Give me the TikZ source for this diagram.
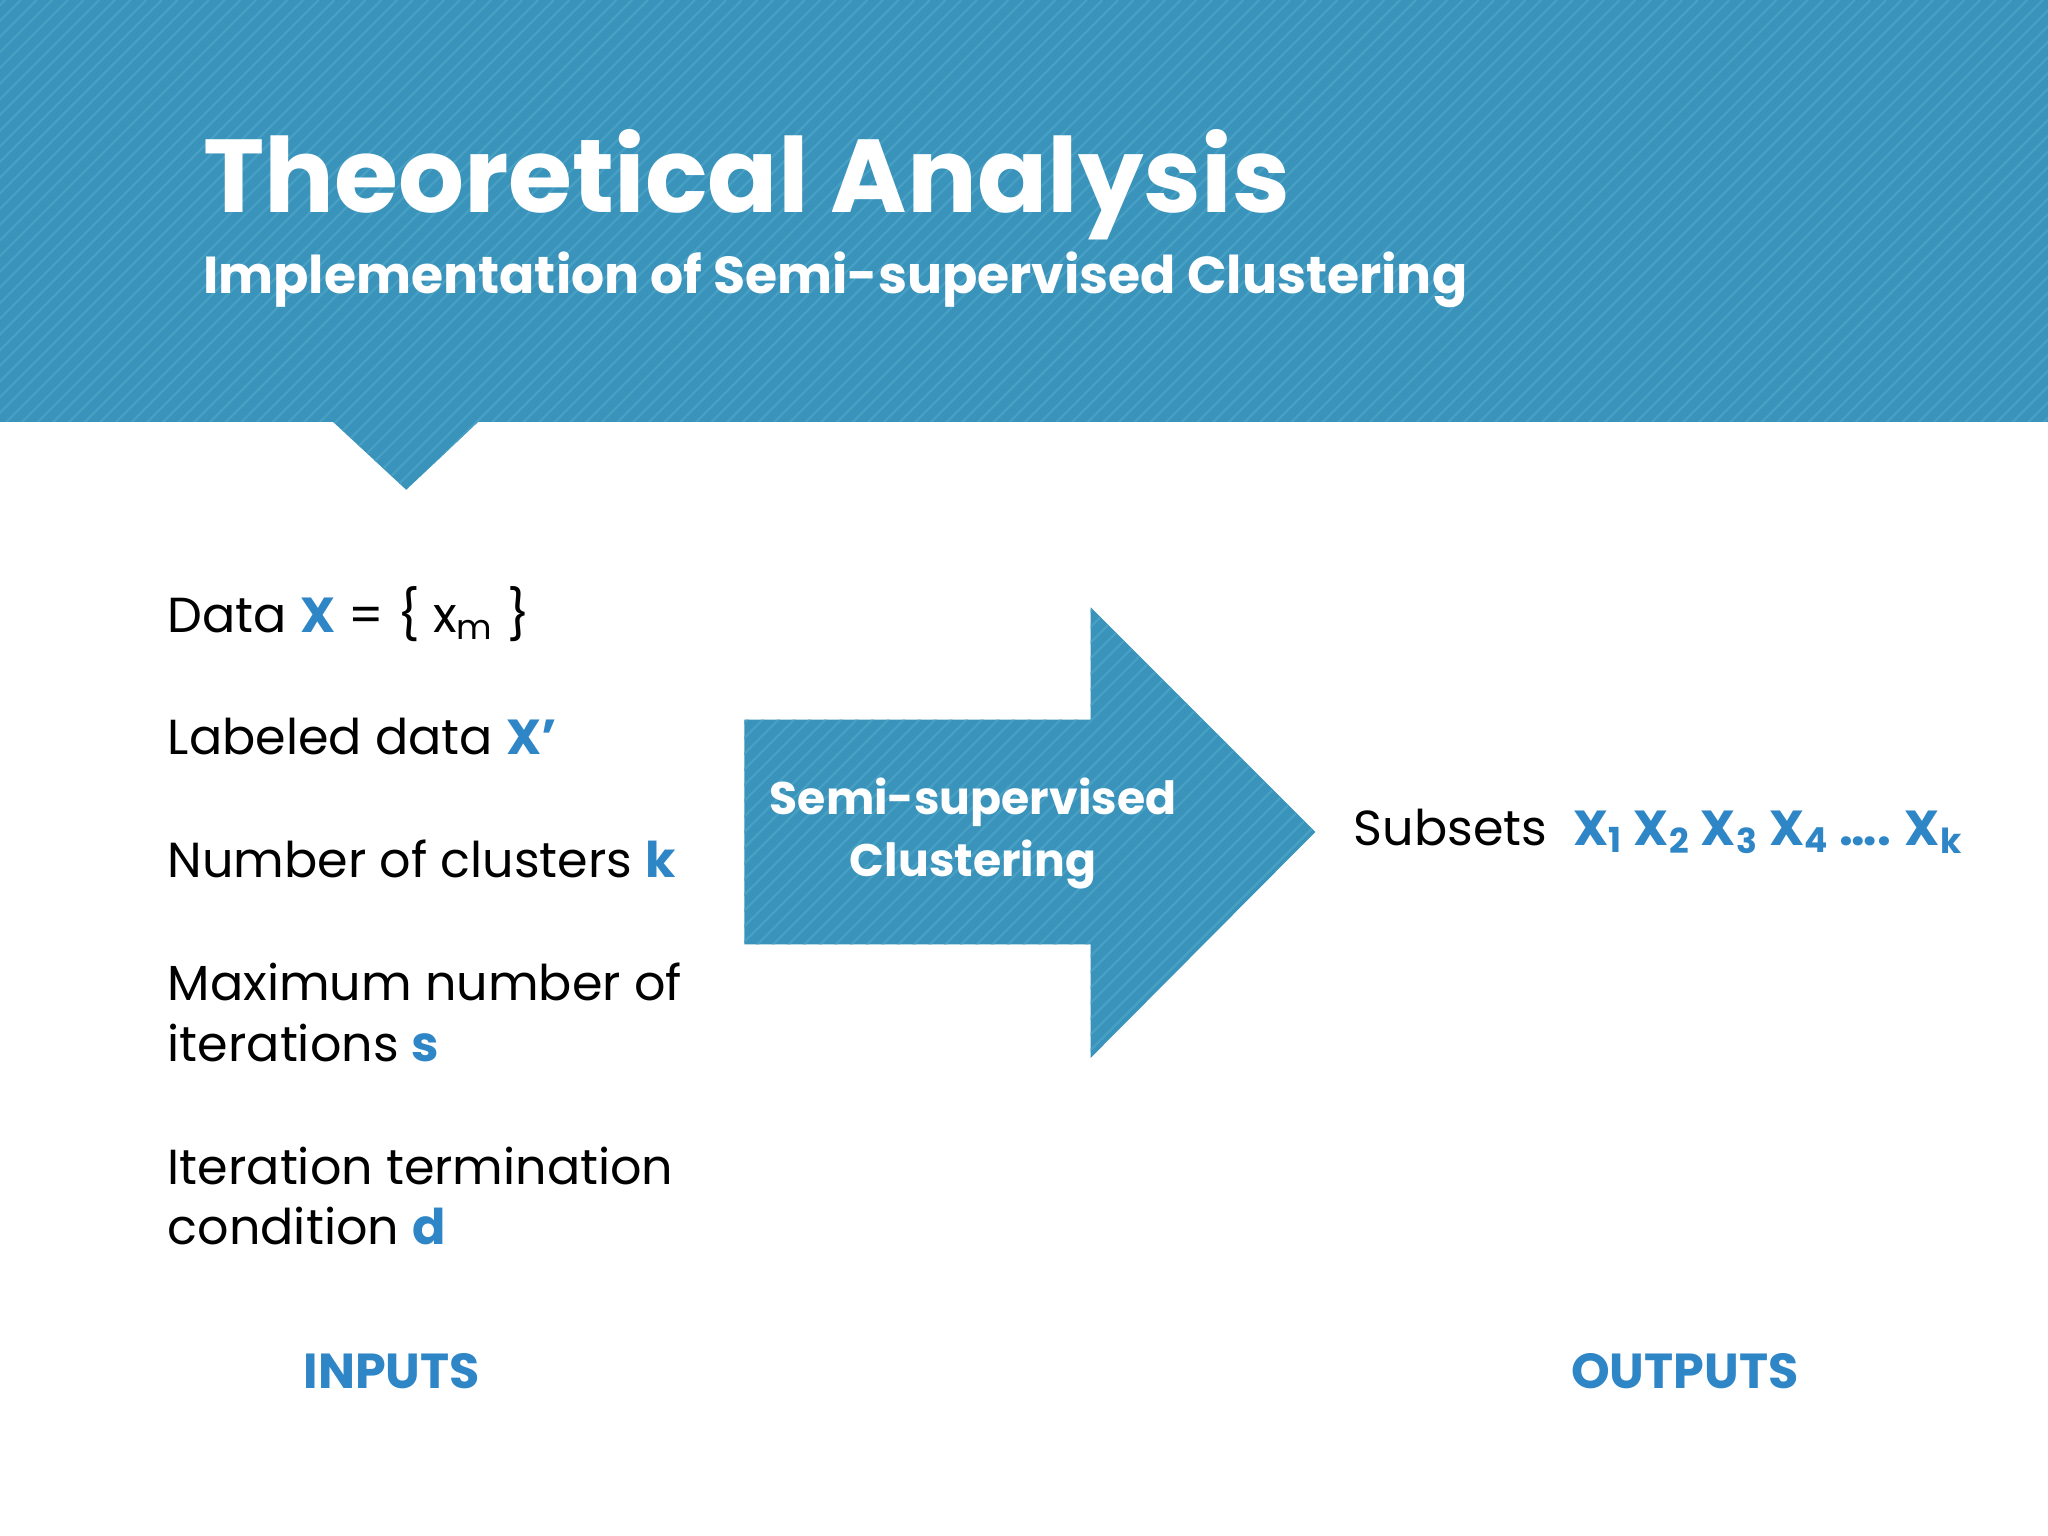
\documentclass[tikz,border=0pt]{standalone}
\usepackage{fontspec}
\setmainfont{Poppins}
\definecolor{band}{HTML}{3A93BA}
\definecolor{stripe}{HTML}{48A0C5}
\definecolor{bl}{HTML}{2F86C6}
\begin{document}
\begin{tikzpicture}[x=0.013061cm,y=-0.013061cm,
  body/.style={anchor=base west,font=\fontsize{14}{17}\selectfont,text=black,inner sep=0},
  hd/.style={anchor=base,font=\bfseries\fontsize{14}{17}\selectfont,text=bl,inner sep=0}]
\useasboundingbox (0,0) rectangle (1568,1176);
\fill[white] (0,0) rectangle (1568,1176);
% banner
\begin{scope}
\clip (0,0) -- (1568,0) -- (1568,323) -- (366,323) -- (311,375) -- (255,323) -- (0,323) -- cycle;
\fill[band] (0,0) rectangle (1568,380);
\foreach \i in {-400,-388,...,1600} \draw[stripe,line width=0.6pt] (\i,380) -- (\i+380,0);
\end{scope}
% arrow
\begin{scope}
\clip (570,551) -- (835,551) -- (835,465) -- (1007,637) -- (835,810) -- (835,723) -- (570,723) -- cycle;
\fill[band] (560,460) rectangle (1010,815);
\foreach \i in {200,212,...,1100} \draw[stripe,line width=0.6pt] (\i,815) -- (\i+355,460);
\end{scope}
\node[anchor=base west,text=white,font=\bfseries\fontsize{29.5}{34}\selectfont,inner sep=0] (title) at (155,163) {Theoretical Analysis};
\node[anchor=base west,text=white,font=\bfseries\fontsize{14.8}{18}\selectfont,inner sep=0] (sub) at (155,225) {Implementation of Semi-supervised Clustering};
\node[text=white,font=\bfseries\fontsize{13}{17.5}\selectfont,align=center,inner sep=0] (proc) at (745,638) {Semi-supervised\\Clustering};
\node[body] (i1) at (128,484) {Data \textcolor{bl}{\bfseries X} = \{ x\textsubscript{m} \}};
\node[body] (i2) at (128,578) {Labeled data \textcolor{bl}{\bfseries X’}};
\node[body] (i3) at (128,672) {Number of clusters \textcolor{bl}{\bfseries k}};
\node[body] (i4) at (128,766) {Maximum number of};
\node[body] (i4b) at (128,813) {iterations \textcolor{bl}{\bfseries s}};
\node[body] (i5) at (128,907) {Iteration termination};
\node[body] (i5b) at (128,953) {condition \textcolor{bl}{\bfseries d}};
\node[body] (o1) at (1036,647) {Subsets \ \textcolor{bl}{\bfseries X\textsubscript{1} X\textsubscript{2} X\textsubscript{3} X\textsubscript{4} …. X\textsubscript{k}}};
\node[hd] (in) at (300,1063) {INPUTS};
\node[hd] (out) at (1290,1063) {OUTPUTS};
\end{tikzpicture}
\end{document}
